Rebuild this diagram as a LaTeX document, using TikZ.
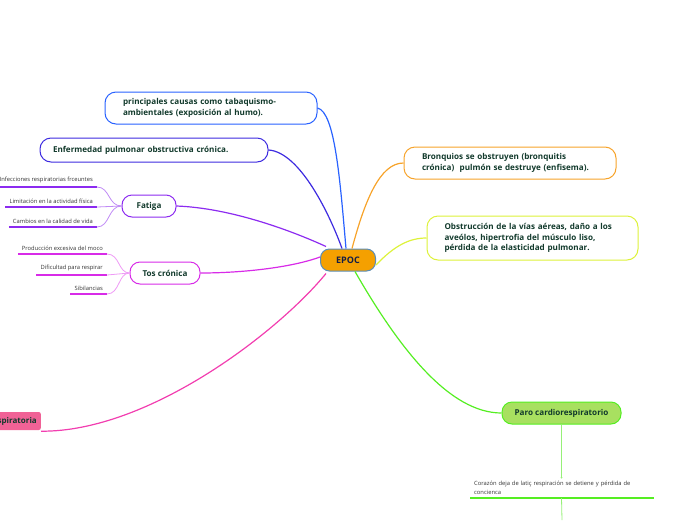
\documentclass[tikz,border=0pt]{standalone}
\usepackage{fontspec}
\setmainfont{Open Sans}
\definecolor{txt}{RGB}{18,58,44}
\definecolor{cblue}{RGB}{41,98,255}
\definecolor{cindigo}{RGB}{61,43,224}
\definecolor{cpurple}{RGB}{140,43,240}
\definecolor{cpurplel}{RGB}{192,139,245}
\definecolor{cmag}{RGB}{216,43,232}
\definecolor{cmagl}{RGB}{238,154,245}
\definecolor{cpink}{RGB}{242,62,176}
\definecolor{cpinkfill}{RGB}{240,98,150}
\definecolor{cgreen}{RGB}{85,238,34}
\definecolor{cgreenl}{RGB}{150,240,120}
\definecolor{cgreenfill}{RGB}{168,224,96}
\definecolor{corange}{RGB}{247,163,42}
\definecolor{cyellow}{RGB}{221,242,58}
\definecolor{epocfill}{RGB}{245,160,0}
\definecolor{epocdraw}{RGB}{91,141,184}
\definecolor{epoctxt}{RGB}{20,30,70}
\tikzset{
  topic/.style={draw, line width=1pt, rounded corners=11pt, fill=white, text=txt,
    font=\fontsize{8.1}{10.5}\selectfont\bfseries, align=left, inner sep=0pt},
  sub/.style={topic, rounded corners=10pt, align=center},
  leaf/.style={inner xsep=4pt, inner ysep=2pt, font=\fontsize{5.8}{9.5}\selectfont, text=black!80},
  leafhi/.style={leaf, inner ysep=3.5pt},
  conn/.style={line width=1.2pt},
}
\begin{document}
\begin{tikzpicture}[x=1pt,y=-1pt]
\useasboundingbox (0,0) rectangle (696,520);

% central
\node[draw=epocdraw, fill=epocfill, line width=1pt, rounded corners=9pt, minimum width=55pt, minimum height=22pt,
  text=epoctxt, font=\fontsize{9}{10}\selectfont\bfseries] (epoc) at (348,260) {EPOC};

% topics
\node[topic, draw=cblue, minimum width=212pt, minimum height=32pt, text width=176pt] (caus) at (211,108)
  {principales causas como tabaquismo-\\ambientales (exposición al humo).};
\node[topic, draw=cindigo, minimum width=228pt, minimum height=24pt, text width=202pt] (enf) at (154,150)
  {Enfermedad pulmonar obstructiva crónica.};
\node[sub, draw=cpurple, minimum width=54pt, minimum height=22pt] (fat) at (149,206) {Fatiga};
\node[sub, draw=cmag, minimum width=70pt, minimum height=22pt] (tos) at (165,273) {Tos crónica};
\node[topic, draw=corange, minimum width=212pt, minimum height=32pt, text width=176pt] (bron) at (510,163)
  {Bronquios se obstruyen (bronquitis\\crónica)\ \ pulmón se destruye (enfisema).};
\node[topic, draw=cyellow, minimum width=211pt, minimum height=44pt, text width=176pt] (obs) at (532.5,238)
  {Obstrucción de la vías aéreas, daño a los\\aveólos, hipertrofia del músculo liso,\\pérdida de la elasticidad pulmonar.};
\node[sub, draw=cgreen, fill=cgreenfill, minimum width=119pt, minimum height=22pt] (paro) at (561.5,413)
  {Paro cardiorespiratorio};
\node[fill=cpinkfill, rounded corners=2pt, minimum height=18pt, inner xsep=4pt, text=txt,
  font=\fontsize{8}{10}\selectfont\bfseries, anchor=east] (ins) at (41,421) {Insuficiencia respiratoria};

% connectors from EPOC
\draw[conn, cblue] ([xshift=-2pt]epoc.north) .. controls (340,180) and (335,112) .. (caus.east);
\draw[conn, cindigo] ([xshift=-6pt]epoc.north) .. controls (330,215) and (300,152) .. (enf.east);
\draw[conn, cpurple] ([xshift=6pt,yshift=2pt]epoc.north west) .. controls (290,230) and (230,208) .. (fat.east);
\draw[conn, cmag] ([yshift=3pt]epoc.west) .. controls (290,268) and (240,273) .. (tos.east);
\draw[conn, cpink] ([xshift=6pt,yshift=-2pt]epoc.south west) .. controls (280,330) and (150,432) .. ([yshift=-1pt]ins.south east);
\draw[conn, cgreen] ([xshift=7pt]epoc.south) .. controls (400,350) and (450,413) .. (paro.west);
\draw[conn, corange] ([xshift=4pt]epoc.north) .. controls (365,200) and (380,163) .. (bron.west);
\draw[conn, cyellow] ([yshift=-5pt]epoc.east) .. controls (395,245) and (410,238) .. (obs.west);

% Fatiga leaves
\node[leafhi, anchor=south east] (f1) at (97,187) {Infecciones respiratorias frceuntes};
\node[leafhi, anchor=south east] (f2) at (97,207) {Limitación en la actividad física};
\node[leafhi, anchor=south east] (f3) at (97,227) {Cambios en la calidad de vida};
\foreach \n in {f1,f2,f3} {
  \draw[cpurple, line width=1.5pt] (\n.south west) -- (\n.south east);
}
\draw[cpurplel, line width=0.8pt] (fat.west) .. controls (108,206) and (110,187) .. (f1.south east);
\draw[cpurplel, line width=0.8pt] (fat.west) -- (f2.south east);
\draw[cpurplel, line width=0.8pt] (fat.west) .. controls (108,206) and (110,227) .. (f3.south east);

% Tos leaves
\node[leafhi, anchor=south east] (t1) at (107,254) {Producción excesiva del moco};
\node[leafhi, anchor=south east] (t2) at (107,275) {Dificultad para respirar};
\node[leafhi, anchor=south east] (t3) at (107,294) {Sibilancias};
\foreach \n in {t1,t2,t3} {
  \draw[cmag, line width=1.5pt] (\n.south west) -- (\n.south east);
}
\draw[cmagl, line width=0.8pt] (tos.west) .. controls (118,273) and (120,254) .. (t1.south east);
\draw[cmagl, line width=0.8pt] (tos.west) -- (t2.south east);
\draw[cmagl, line width=0.8pt] (tos.west) .. controls (118,273) and (120,294) .. (t3.south east);

% Paro leaf
\node[leaf, anchor=south west, minimum width=184pt, text width=176pt, align=left, inner xsep=4pt, inner ysep=3pt] (pc) at (470,498)
  {Corazón deja de latiç respiración se detiene y pérdida de\\concienca};
\draw[cgreen, line width=1.5pt] (pc.south west) -- (pc.south east);
\draw[cgreenl, line width=0.8pt] (paro.south) -- (paro.south |- pc.north);
\fill[cgreenl] (paro.south |- pc.north) circle (1pt);
\coordinate (pend) at (562,520);
\draw[cgreenl, line width=0.8pt] (paro.south |- pc.south) -- (pend);
\end{tikzpicture}
\end{document}
